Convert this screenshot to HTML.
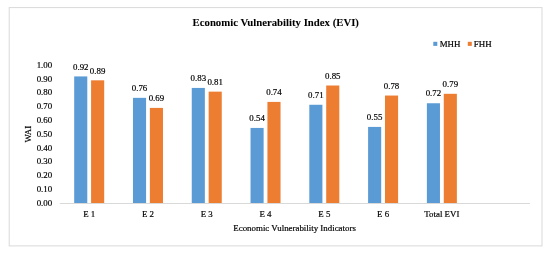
<!DOCTYPE html>
<html><head><meta charset="utf-8">
<style>
html,body{margin:0;padding:0;background:#fff;}
svg{display:block;}
text{font-family:"Liberation Serif","Times New Roman",serif;fill:#000;stroke:#000;stroke-width:0.18px;}
.t{font-size:8.9px;}
</style></head>
<body>
<svg width="550" height="254" viewBox="0 0 550 254">
<rect x="0" y="0" width="550" height="254" fill="#fff"/>
<rect x="9.2" y="7.6" width="532.8" height="238.3" fill="#fff" stroke="#d9d9d9" stroke-width="1"/>
<text x="275.75" y="26" text-anchor="middle" font-size="10.75" font-weight="bold" style="stroke-width:0.05px">Economic Vulnerability Index (EVI)</text>
<rect x="433.3" y="41.8" width="4" height="4.1" fill="#5b9bd5"/>
<text class="t" x="439.7" y="47">MHH</text>
<rect x="467.8" y="41.8" width="4" height="4.1" fill="#ed7d31"/>
<text class="t" x="473.8" y="47">FHH</text>

<g class="t" text-anchor="end">
<text x="52.2" y="67.75">1.00</text>
<text x="52.2" y="81.55">0.90</text>
<text x="52.2" y="95.34">0.80</text>
<text x="52.2" y="109.14">0.70</text>
<text x="52.2" y="122.93">0.60</text>
<text x="52.2" y="136.72">0.50</text>
<text x="52.2" y="150.52">0.40</text>
<text x="52.2" y="164.31">0.30</text>
<text x="52.2" y="178.11">0.20</text>
<text x="52.2" y="191.91">0.10</text>
<text x="52.2" y="205.70">0.00</text>
</g>
<text class="t" transform="translate(30.7,134.2) rotate(-90)" text-anchor="middle">WAI</text>
<g fill="#5b9bd5">
<rect x="74.19" y="76.41" width="13.10" height="127.09"/>
<rect x="132.97" y="97.85" width="13.10" height="105.65"/>
<rect x="191.75" y="87.93" width="13.10" height="115.57"/>
<rect x="250.53" y="127.93" width="13.10" height="75.57"/>
<rect x="309.31" y="104.77" width="13.10" height="98.73"/>
<rect x="368.09" y="126.91" width="13.10" height="76.59"/>
<rect x="426.87" y="103.25" width="13.10" height="100.25"/>
</g>
<g fill="#ed7d31">
<rect x="91.09" y="80.32" width="13.10" height="123.18"/>
<rect x="149.87" y="107.90" width="13.10" height="95.60"/>
<rect x="208.65" y="91.64" width="13.10" height="111.86"/>
<rect x="267.43" y="101.91" width="13.10" height="101.59"/>
<rect x="326.21" y="85.51" width="13.10" height="117.99"/>
<rect x="384.99" y="95.55" width="13.10" height="107.95"/>
<rect x="443.77" y="93.81" width="13.10" height="109.69"/>
</g>
<line x1="59.8" y1="203.5" x2="530.0" y2="203.5" stroke="#d9d9d9" stroke-width="1"/>
<g class="t" text-anchor="middle">
<text x="80.74" y="69.61">0.92</text>
<text x="139.52" y="91.05">0.76</text>
<text x="198.30" y="81.13">0.83</text>
<text x="257.08" y="121.13">0.54</text>
<text x="315.86" y="97.97">0.71</text>
<text x="374.64" y="120.11">0.55</text>
<text x="433.42" y="96.45">0.72</text>
<text x="97.64" y="73.52">0.89</text>
<text x="156.42" y="101.10">0.69</text>
<text x="215.20" y="84.84">0.81</text>
<text x="273.98" y="95.11">0.74</text>
<text x="332.76" y="78.71">0.85</text>
<text x="391.54" y="88.75">0.78</text>
<text x="450.32" y="87.01">0.79</text>
<text x="89.19" y="217.2">E 1</text>
<text x="147.97" y="217.2">E 2</text>
<text x="206.75" y="217.2">E 3</text>
<text x="265.53" y="217.2">E 4</text>
<text x="324.31" y="217.2">E 5</text>
<text x="383.09" y="217.2">E 6</text>
<text x="441.87" y="217.2">Total EVI</text>
<text x="294.6" y="230.75">Economic Vulnerability Indicators</text>
</g>
</svg>
</body></html>
